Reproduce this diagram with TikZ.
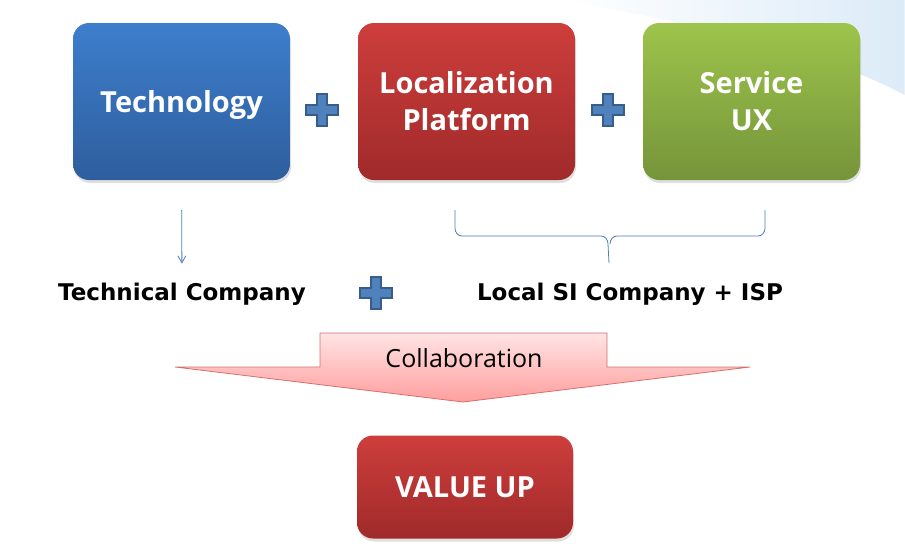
\documentclass[tikz,border=0pt]{standalone}
\usepackage{fontspec}
\newfontfamily\boxfont{Open Sans}
\newfontfamily\labelfont{DejaVu Sans}
\usetikzlibrary{shadows,arrows.meta,fadings}
\definecolor{techtop}{HTML}{3D7ECC}
\definecolor{techbot}{HTML}{2E5E9D}
\definecolor{loctop}{HTML}{CD3E3C}
\definecolor{locbot}{HTML}{A02A2A}
\definecolor{svctop}{HTML}{9DC44B}
\definecolor{svcbot}{HTML}{75943A}
\definecolor{plusfill}{HTML}{4F81BD}
\definecolor{plusline}{HTML}{385D8A}
\definecolor{connline}{HTML}{4A7EBB}
\definecolor{collabtop}{HTML}{FFE4E4}
\definecolor{collabbot}{HTML}{FF9E9E}
\definecolor{collabline}{HTML}{D4706C}
\definecolor{swoosh}{HTML}{DCEBF8}
\begin{document}
\begin{tikzpicture}[x=1pt,y=-1pt,>={Straight Barb[length=7pt,width=8pt]},
  box/.style={rounded corners=16pt, minimum width=217pt, minimum height=157pt,
    drop shadow={shadow xshift=1pt,shadow yshift=-3pt,opacity=.25},
    text=white, align=center, font=\boxfont\bfseries\fontsize{29}{37}\selectfont},
  tag/.style={inner sep=0pt, font=\labelfont\bfseries\fontsize{23}{26}\selectfont},
  conn/.style={draw=connline, line width=.8pt},
  plusmark/.style={fill=plusfill, draw=plusline, line width=1.6pt}]
  \def\pluspath{-- ++(10,0) -- ++(0,11) -- ++(11,0) -- ++(0,10) -- ++(-11,0) -- ++(0,11) -- ++(-10,0) -- ++(0,-11) -- ++(-11,0) -- ++(0,-10) -- ++(11,0) -- cycle}
  \useasboundingbox (0,0) rectangle (905,555);
  % faint backdrop, top right
  \fill[swoosh, path fading=west] (560,0) .. controls (700,25) and (820,50) .. (905,95) -- (905,0) -- cycle;
  % top row
  \node[box, top color=techtop, bottom color=techbot, text height=22pt, text depth=0pt] (tech) at (181.5,101.5) {Technology};
  \node[box, top color=loctop, bottom color=locbot] (loc) at (466.5,101.5) {Localization\\Platform};
  \node[box, top color=svctop, bottom color=svcbot] (svc) at (751.5,101.5) {Service\\UX};
  \draw[plusmark] (317,94) \pluspath;
  \draw[plusmark] (603,94) \pluspath;
  % companies
  \node[tag] (techco) at (182,294) {Technical Company};
  \node[tag] (localco) at (630,294) {Local SI Company + ISP};
  \draw[plusmark] (371,277) \pluspath;
  \draw[conn, ->, shorten <=30pt, shorten >=19pt] (tech.south) -- (techco.north);
  \coordinate (bl) at (455,210);
  \coordinate (br) at (765,210);
  \coordinate (bt) at (609,263);
  \draw[conn] (bl) -- ++(0,18) to[out=-90,in=180] ++(7,8) -- ++(139,0) to[out=0,in=90] ++(7,8) -- (bt);
  \draw[conn] (br) -- ++(0,18) to[out=-90,in=0] ++(-7,8) -- ++(-141,0) to[out=180,in=90] ++(-7,8);
  % collaboration arrow
  \draw[collabline, line width=.8pt, top color=collabtop, bottom color=collabbot]
    (320,333) -- ++(287,0) -- ++(0,34) -- ++(143,0) -- (463,402) -- (175,367) -- ++(145,0) -- cycle;
  \node[font=\boxfont\fontsize{25}{28}\selectfont] (collab) at (464,358) {Collaboration};
  % result
  \node[box, top color=loctop, bottom color=locbot, minimum width=216pt, minimum height=103pt, font=\boxfont\bfseries\fontsize{29}{34}\selectfont] (value) at (465,487) {VALUE UP};
\end{tikzpicture}
\end{document}
